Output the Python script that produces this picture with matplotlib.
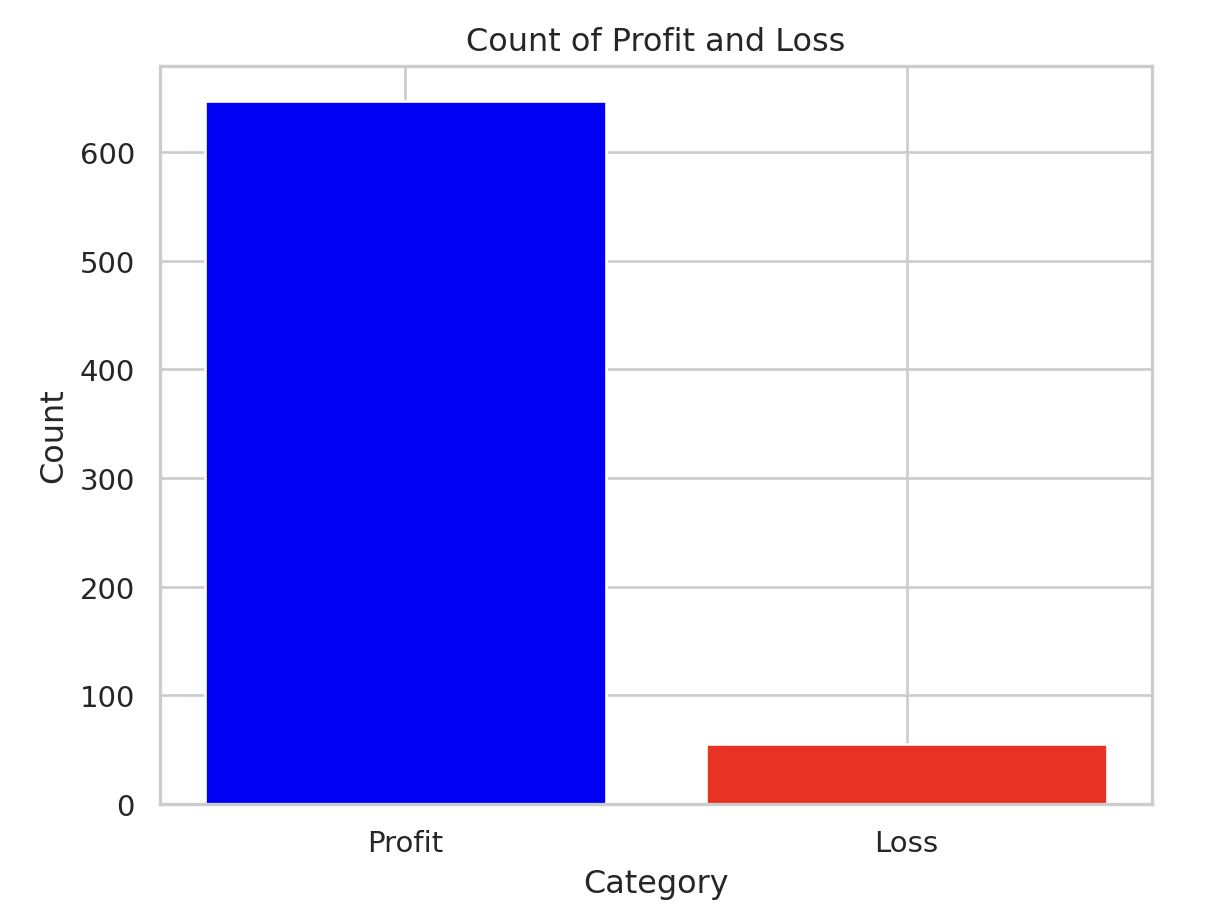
import matplotlib
matplotlib.use('Agg')
import matplotlib.pyplot as plt
import seaborn as sns

categories = ['Profit', 'Loss']
counts = [647, 55]
colors = ['#0000f5', '#e83324']

sns.set_theme(style='whitegrid')
fig = plt.figure(figsize=(1222 / 191, 922 / 191), dpi=191)
ax = fig.add_axes([160 / 1222, 1 - 805 / 922, 992 / 1222, 738 / 922])
ax.bar(categories, counts, color=colors)
ax.set_title('Count of Profit and Loss')
ax.set_xlabel('Category')
ax.set_ylabel('Count')
fig.savefig('out.png', dpi=191)
